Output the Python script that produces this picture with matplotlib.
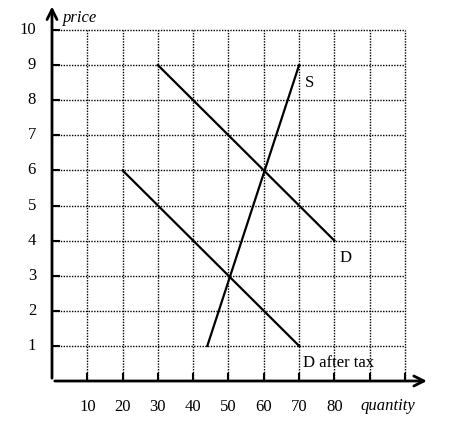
import matplotlib
matplotlib.use("Agg")
import matplotlib.pyplot as plt

plt.rcParams['font.family'] = ['Liberation Serif', 'DejaVu Serif']

x_ticks = [10, 20, 30, 40, 50, 60, 70, 80]
y_ticks = [1, 2, 3, 4, 5, 6, 7, 8, 9, 10]
supply_q = [44, 70]; supply_p = [1, 9]
demand_q = [30, 80]; demand_p = [9, 4]
dtax_q = [20, 70]; dtax_p = [6, 1]

fig = plt.figure(figsize=(4.6, 4.36), dpi=100)
W, H = 460, 436
x0, y0 = 52, 381
sx, sy = 3.53, 35.1
xmax, ymax = 107, 10.75
ax = fig.add_axes([x0 / W, (H - y0) / H, xmax * sx / W, ymax * sy / H])
ax.set_xlim(0, xmax); ax.set_ylim(0, ymax)
ax.axis('off')

for gx in range(10, 101, 10):
    ax.plot([0, gx], [0, 0], lw=0)
    ax.plot([gx, gx], [0, 10], color='black', lw=1, ls=(0, (1, 1)), zorder=1)
    ax.plot([gx, gx], [-0.2, 0.2], color='black', lw=1.5, zorder=3)
for gy in y_ticks:
    ax.plot([0, 100], [gy, gy], color='black', lw=1, ls=(0, (1, 1)), zorder=1)
    ax.plot([-2, 2], [gy, gy], color='black', lw=1.5, zorder=3)

ax.annotate('', xy=(xmax, 0), xytext=(0, 0), annotation_clip=False,
            arrowprops=dict(arrowstyle='->', lw=2, color='black', mutation_scale=18))
ax.annotate('', xy=(0, ymax), xytext=(0, 0), annotation_clip=False,
            arrowprops=dict(arrowstyle='->', lw=2, color='black', mutation_scale=18))

for t in x_ticks:
    ax.text(t, -0.75, str(t), ha='center', va='center', fontsize=12)
for t in y_ticks:
    ax.text(-4.5, t, str(t), ha='right', va='center', fontsize=12)
ax.text(3, 10.35, 'price', style='italic', fontsize=12, ha='left', va='center')
ax.text(103, -0.7, 'quantity', style='italic', fontsize=12, ha='right', va='center')

for q, p in [(supply_q, supply_p), (demand_q, demand_p), (dtax_q, dtax_p)]:
    ax.plot(q, p, color='black', lw=1.6, zorder=4)
ax.text(71.5, 8.5, 'S', fontsize=12, va='center')
ax.text(81.5, 3.5, 'D', fontsize=12, va='center')
ax.text(71, 0.5, 'D after tax', fontsize=12, va='center')

fig.savefig('out.png', dpi=100)
